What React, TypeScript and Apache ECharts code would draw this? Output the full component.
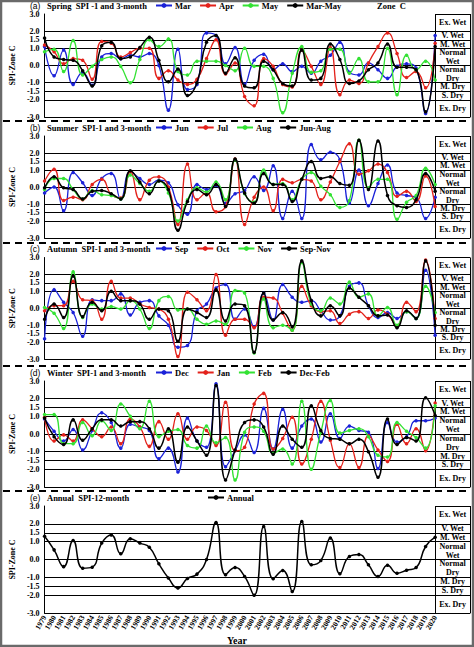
import React, { useEffect, useRef } from "react";
import * as echarts from "echarts";

const years = [1979, 1980, 1981, 1982, 1983, 1984, 1985, 1986, 1987, 1988, 1989, 1990, 1991, 1992, 1993, 1994, 1995, 1996, 1997, 1998, 1999, 2000, 2001, 2002, 2003, 2004, 2005, 2006, 2007, 2008, 2009, 2010, 2011, 2012, 2013, 2014, 2015, 2016, 2017, 2018, 2019, 2020];

// (a) Spring
const mar = [1.1, -0.6, 0.9, -1.1, -0.4, -1.15, 0.5, 0.7, 0.4, 0.6, 0.5, 0.7, 0.0, -2.6, 0.95, -1.4, -1.1, 1.9, 1.75, 0.1, 1.05, -1.1, 0.3, 0.65, -0.25, 0.1, -0.35, -0.05, -0.45, 0.25, 0.6, 1.35, -0.4, -0.55, 0.15, -0.25, -0.75, -0.05, 0.1, -0.15, -2.8, 1.75];
const apr = [1.2, 0.8, 0.1, 0.4, 0.3, -0.8, 1.4, 1.3, 0.5, 0.75, 1.0, 1.0, -0.75, -0.3, -0.85, -1.1, -0.8, 0.4, 1.5, -0.5, 0.15, -1.8, -2.35, 0.4, -0.05, -1.1, -1.25, 0.9, -0.05, -1.1, 1.05, -1.7, -0.85, -1.05, 0.15, 1.1, 1.9, 0.7, -0.7, -0.35, -1.3, 1.3];
const may = [0.8, 0.95, -0.35, 1.45, -0.55, -0.05, 0.35, 0.5, -0.05, -1.0, 0.35, 1.5, 1.1, 1.55, -0.35, -0.55, 0.25, 0.25, 0.25, 0.0, -0.3, 1.0, -0.05, -0.05, -0.75, -2.75, -0.45, 1.1, -0.4, -0.3, 0.95, 0.95, -0.45, 0.4, -0.95, -0.95, 1.0, -1.7, 0.6, -0.25, 0.25, -0.85];
const marMay = [1.6, 0.5, 0.35, 0.3, -0.3, -1.2, 1.15, 1.35, 0.4, 0.5, 1.05, 1.65, 0.3, -0.95, -0.2, -1.75, -1.0, 1.35, 1.75, -0.45, 0.45, -1.2, -1.3, 0.25, -0.25, -1.05, -1.2, 0.9, -0.85, -0.75, 1.25, 0.35, -1.05, -0.9, -0.25, 0.15, 1.25, -0.1, -0.1, -0.25, -2.7, 1.1];

// (b) Summer
const jun = [-0.35, 0.0, -1.4, 0.85, 0.25, -0.5, 0.5, 0.8, -0.7, 0.9, 0.5, 0.15, 0.4, 0.25, -1.05, -1.6, 0.15, -0.15, 0.1, -0.95, -0.4, -0.2, 0.6, -0.2, 1.25, -1.85, -0.25, -1.85, 2.5, 1.6, 2.05, 1.6, -0.95, 1.0, -1.1, 0.2, 1.3, -0.35, -0.5, -0.6, -1.85, -0.6];
const jul = [0.35, 1.05, -0.8, -0.6, -0.75, 0.15, 0.45, -0.45, -0.65, 0.9, -0.75, 0.4, 0.6, 0.0, -2.2, 1.35, -0.75, -0.35, -1.45, -1.15, 1.65, -2.2, -0.6, 0.0, -1.4, 0.45, 0.25, 0.45, 0.35, -0.75, 0.3, 1.5, 2.55, 0.75, 0.95, 1.35, 0.85, -0.55, -0.25, -0.85, 0.65, -1.15];
const aug = [-0.15, 0.5, 0.5, -0.15, -0.7, -0.2, -0.45, -0.5, -0.7, 0.7, 0.2, -0.25, 0.35, -0.35, -2.0, -0.75, -0.05, -0.3, 0.3, -0.75, 1.6, -0.4, -0.9, 1.0, 0.15, 0.2, -0.75, 0.45, 0.85, 0.05, -0.45, -1.2, -0.8, 2.75, -0.05, 0.45, 0.45, -1.9, -0.9, -0.5, 1.1, 0.15];
const junAug = [-0.05, 0.6, -0.05, -0.15, -0.7, -0.25, -0.2, -0.4, -0.7, 0.95, 0.3, -0.4, 0.35, -0.15, -2.55, -0.85, -0.15, -0.45, 0.15, -1.15, 1.65, -0.35, -0.95, 0.8, 0.15, 0.15, -0.85, 0.45, 1.5, 0.5, 0.6, 0.2, 0.1, 2.75, -0.15, 2.7, -0.5, -1.1, -1.2, -0.75, 0.8, -0.25];

// (c) Autumn
const sep = [-1.8, 1.1, 0.35, -0.25, -1.65, 0.5, 0.45, 0.45, 0.85, -0.4, 0.35, 0.45, -0.45, -1.0, -2.3, -2.2, -0.15, 0.25, 1.2, 1.4, -0.65, -0.05, -1.1, 0.9, -0.7, 1.4, 0.65, 0.35, 0.45, -0.15, -0.7, -0.45, 1.3, 1.5, 0.15, -0.55, -0.25, -0.6, -0.2, -0.6, 2.25, -1.6];
const oct = [-0.15, 0.15, 0.15, 1.6, 0.5, 0.45, -0.65, 1.6, 0.6, 0.6, 0.25, 0.05, -0.05, -0.65, -2.85, 0.95, 0.5, -0.15, 2.0, -1.6, -0.65, -0.65, -1.15, 0.65, 0.6, -0.3, -1.3, 1.3, 0.15, -0.2, -0.15, -0.9, -0.35, -0.2, -0.6, -0.1, -0.35, -1.05, 0.35, -0.2, 2.85, -0.6];
const nov = [0.05, -0.3, -1.2, 2.15, -0.55, 0.25, -0.05, 0.1, -0.05, 0.45, -0.05, -1.2, 0.45, 0.7, -0.1, -0.05, -0.65, -0.95, -0.75, -0.95, 1.05, 0.9, -2.65, 0.55, -1.15, -1.0, -1.3, 2.7, 0.25, -0.15, 0.6, 0.25, 1.55, 0.65, 0.85, -0.45, 0.05, -1.0, -0.2, -0.6, 1.3, -0.25];
const sepNov = [-0.65, 0.25, -0.55, 1.9, -0.5, 0.35, -0.15, 1.0, 0.45, 0.45, 0.25, -0.65, -0.05, -0.15, -1.95, -0.05, -0.25, -0.55, 1.1, -0.75, 0.25, 0.15, -2.6, 0.9, -0.7, -0.25, -1.1, 2.8, 0.45, -0.45, 0.15, -0.45, 1.2, 0.65, 0.15, -0.45, -0.4, -1.15, -0.15, -0.6, 2.8, -1.0];

// (d) Winter
const dec = [0.85, 0.15, -0.4, 0.25, -0.9, 0.2, 1.2, 0.65, -0.8, 0.55, 0.4, 0.2, -1.4, -0.8, -2.15, 0.9, -0.4, -0.75, 2.85, -1.85, -0.95, -0.05, -1.05, 1.45, -0.85, 1.4, -0.8, 0.45, 0.85, -0.45, 1.15, -0.25, 0.45, 0.2, 0.1, -1.95, 0.65, -0.45, -0.15, 0.75, 0.75, 0.9];
const jan = [0.95, -0.4, -0.05, -0.4, 0.8, 0.3, -0.15, 0.4, -0.55, 0.85, 0.4, -0.7, 0.7, -0.3, 1.15, -0.3, 0.4, 0.2, -0.65, 1.8, -0.95, -0.75, 1.7, 2.3, -0.85, -0.25, 0.95, -1.7, -0.3, 1.85, -0.35, -1.9, -0.55, -1.9, -0.1, -0.9, -1.55, 0.55, -0.55, 0.3, -0.95, 1.75];
const feb = [1.1, 1.1, -0.55, -0.55, 0.65, -0.1, 0.75, 0.2, 1.7, 1.0, 0.3, 1.85, -0.15, 0.15, 0.25, -0.65, -0.8, 0.45, -0.5, -0.2, -2.6, 0.1, 0.4, 0.15, -1.1, -0.85, -1.7, 1.85, -2.0, 0.1, 1.9, 0.05, 0.2, 0.3, -0.15, -1.2, -1.3, 0.65, 0.15, -0.2, -0.8, 1.6];
const decFeb = [0.9, -0.15, -0.6, 0.8, -0.35, 0.3, 0.8, 0.8, 0.45, 0.7, 0.7, 0.3, -0.8, 0.3, -1.6, 0.4, -0.4, -1.2, 2.75, -2.6, -0.9, 0.65, 0.8, 0.4, -1.15, 0.45, -0.3, -0.75, 1.6, 0.2, -0.25, -0.3, -0.55, -0.3, -1.0, -2.45, 0.85, -0.6, -0.2, -0.4, 2.05, 1.05];

// (e) Annual
const annual = [1.3, 0.54, -0.4, 1.07, -0.49, -0.43, 0.92, 1.38, 0.32, 1.16, 0.92, 0.69, -0.24, -1.04, -1.6, -1.06, -0.82, 0.0, 2.07, -0.85, -0.45, -0.95, -2.0, 1.85, -1.08, -0.62, -1.8, 2.13, -0.3, -0.06, 1.21, -0.8, 0.17, 0.28, -0.3, -0.95, -0.32, -0.77, -0.6, -0.45, 0.73, 1.25];

const yTickLabels = ["3.0", "2.0", "1.5", "1.0", "0.0", "-1.0", "-1.5", "-2.0", "-3.0"];
const gridLevels = [2, 1.5, 1, 0, -1, -1.5, -2];
const classNames = ["Ex. Wet", "V. Wet", "M. Wet", "Normal\nWet", "Normal\nDry", "M. Dry", "S. Dry", "Ex. Dry"];
const classBounds = [[3, 2], [2, 1.5], [1.5, 1], [1, 0], [0, -1], [-1, -1.5], [-1.5, -2], [-2, -3]];

const COLORS = ["#1b22d8", "#e3221b", "#33e233", "#000000"];
const SERIF = "'Liberation Serif', 'Times New Roman', serif";
const XMAX = 2023.66;

const panels = [
  { letter: "(a)", title: "Spring  SPI -1 and 3-month", names: ["Mar", "Apr", "May", "Mar-May"], data: [mar, apr, may, marMay], top: 14, height: 103, titleY: 6, legendLeft: 155 },
  { letter: "(b)", title: "Summer  SPI-1 and 3-month", names: ["Jun", "Jul", "Aug", "Jun-Aug"], data: [jun, jul, aug, junAug], top: 136, height: 102, titleY: 128, legendLeft: 155 },
  { letter: "(c)", title: "Autumn  SPI-1 and 3-month", names: ["Sep", "Oct", "Nov", "Sep-Nov"], data: [sep, oct, nov, sepNov], top: 257.5, height: 101.5, titleY: 249, legendLeft: 155 },
  { letter: "(d)", title: "Winter  SPI-1 and 3-month", names: ["Dec", "Jan", "Feb", "Dec-Feb"], data: [dec, jan, feb, decFeb], top: 381, height: 106, titleY: 373, legendLeft: 155 },
  { letter: "(e)", title: "Annual  SPI-12-month", names: ["Annual"], data: [annual], top: 506, height: 107, titleY: 498, legendLeft: 207 },
];

export default function App() {
  const ref = useRef<HTMLDivElement>(null);
  useEffect(() => {
    const chart = echarts.init(ref.current!, null, { renderer: "svg" });
    const grid: any[] = [];
    const xAxis: any[] = [];
    const yAxis: any[] = [];
    const series: any[] = [];
    const legend: any[] = [];
    const graphic: any[] = [];
    const lineStyleBlack = { color: "#000", width: 1, type: "solid" };

    panels.forEach((p, i) => {
      grid.push({ left: 31, width: 439, top: p.top, height: p.height });
      xAxis.push({
        type: "value", gridIndex: i, min: 1979, max: XMAX, interval: 1,
        axisLine: { show: true, onZero: false, lineStyle: { color: "#000", width: 1 } },
        axisTick: { show: false }, splitLine: { show: false },
        axisLabel: i === 4 ? {
          show: true, rotate: 60, margin: 3, fontSize: 7.5, fontWeight: "bold", fontFamily: SERIF, color: "#000",
          formatter: (v: number) => (v <= 2020 ? String(v) : ""),
        } : { show: false },
      });
      yAxis.push({
        type: "value", gridIndex: i, min: -3, max: 3, interval: 0.5,
        axisLine: { show: true, onZero: false, lineStyle: { color: "#000", width: 1 } },
        axisTick: { show: false }, splitLine: { show: false },
        axisLabel: {
          margin: 5, fontSize: 8, fontWeight: "bold", fontFamily: SERIF, color: "#000",
          formatter: (v: number) => { const s = (Math.round(v * 10) / 10).toFixed(1); return yTickLabels.includes(s) ? s : ""; },
        },
        name: "SPI-Zone C", nameLocation: "middle", nameGap: 22, nameRotate: 90,
        nameTextStyle: { fontSize: 8, fontWeight: "bold", fontFamily: SERIF, color: "#000" },
      });
      legend.push({
        data: p.names, left: p.legendLeft, top: p.titleY - 5, itemGap: 8, itemWidth: 16, itemHeight: 6, padding: 0,
        textStyle: { fontSize: 8.5, fontWeight: "bold", fontFamily: SERIF, color: "#000", padding: [0, 0, 0, -2] },
      });
      p.data.forEach((vals, k) => {
        const isBlack = p.names.length === 1 || k === 3;
        const color = isBlack ? "#000" : COLORS[k];
        const s: any = {
          type: "line", name: p.names[k], xAxisIndex: i, yAxisIndex: i, smooth: true,
          data: years.map((y, j) => [y, vals[j]]),
          symbol: "circle", symbolSize: 3.5, showSymbol: true,
          lineStyle: { color, width: isBlack ? 1.5 : 1.3 }, itemStyle: { color },
          z: 3 + k,
        };
        if (k === 0) {
          s.markLine = {
            silent: true, symbol: ["none", "none"], label: { show: false }, lineStyle: lineStyleBlack, z: 1,
            data: [
              ...gridLevels.map((v) => ({ yAxis: v })),
              { xAxis: 2020 },
              [{ coord: [2020, 3] }, { coord: [XMAX, 3] }],
              [{ coord: [XMAX, -3] }, { coord: [XMAX, 3] }],
            ],
          };
          s.markArea = {
            silent: true, itemStyle: { color: "rgba(0,0,0,0)" },
            label: { show: true, position: "inside", fontSize: 8, fontWeight: "bold", fontFamily: SERIF, color: "#000", lineHeight: 9 },
            data: classNames.map((n, j) => [
              { name: n, xAxis: 2020, yAxis: classBounds[j][0] },
              { xAxis: XMAX, yAxis: classBounds[j][1] },
            ]),
          };
        }
        series.push(s);
      });
      graphic.push({
        type: "text", x: 30, y: p.titleY, z: 10,
        style: { text: p.letter, verticalAlign: "middle", align: "left", fontFamily: "'Liberation Sans', Arial, sans-serif", fontSize: 8.5, fill: "#000" },
      });
      graphic.push({
        type: "text", x: 47, y: p.titleY, z: 10,
        style: { text: p.title, verticalAlign: "middle", align: "left", fontFamily: SERIF, fontWeight: "bold", fontSize: 8.5, fill: "#000" },
      });
    });

    graphic.push({
      type: "text", x: 377, y: 6, z: 10,
      style: { text: "Zone  C", verticalAlign: "middle", align: "left", fontFamily: SERIF, fontWeight: "bold", fontSize: 8.5, fill: "#000" },
    });
    graphic.push({
      type: "text", x: 237, y: 640, z: 10,
      style: { text: "Year", verticalAlign: "middle", align: "center", fontFamily: SERIF, fontWeight: "bold", fontSize: 10, fill: "#000" },
    });
    [121, 243, 366, 491].forEach((y) => {
      graphic.push({
        type: "line", z: 10, shape: { x1: 3, y1: y, x2: 471, y2: y },
        style: { stroke: "#000", lineWidth: 2, lineDash: [7, 5] },
      });
    });
    graphic.push({
      type: "rect", z: 0, shape: { x: 1, y: 1, width: 472, height: 645 },
      style: { fill: "none", stroke: "#6a6a6a", lineWidth: 2.5 },
    });

    chart.setOption({ animation: false, backgroundColor: "#fff", grid, xAxis, yAxis, legend, series, graphic });
    return () => chart.dispose();
  }, []);
  return <div ref={ref} style={{ position: "fixed", left: 0, top: 0, width: 474, height: 647 }} />;
}
